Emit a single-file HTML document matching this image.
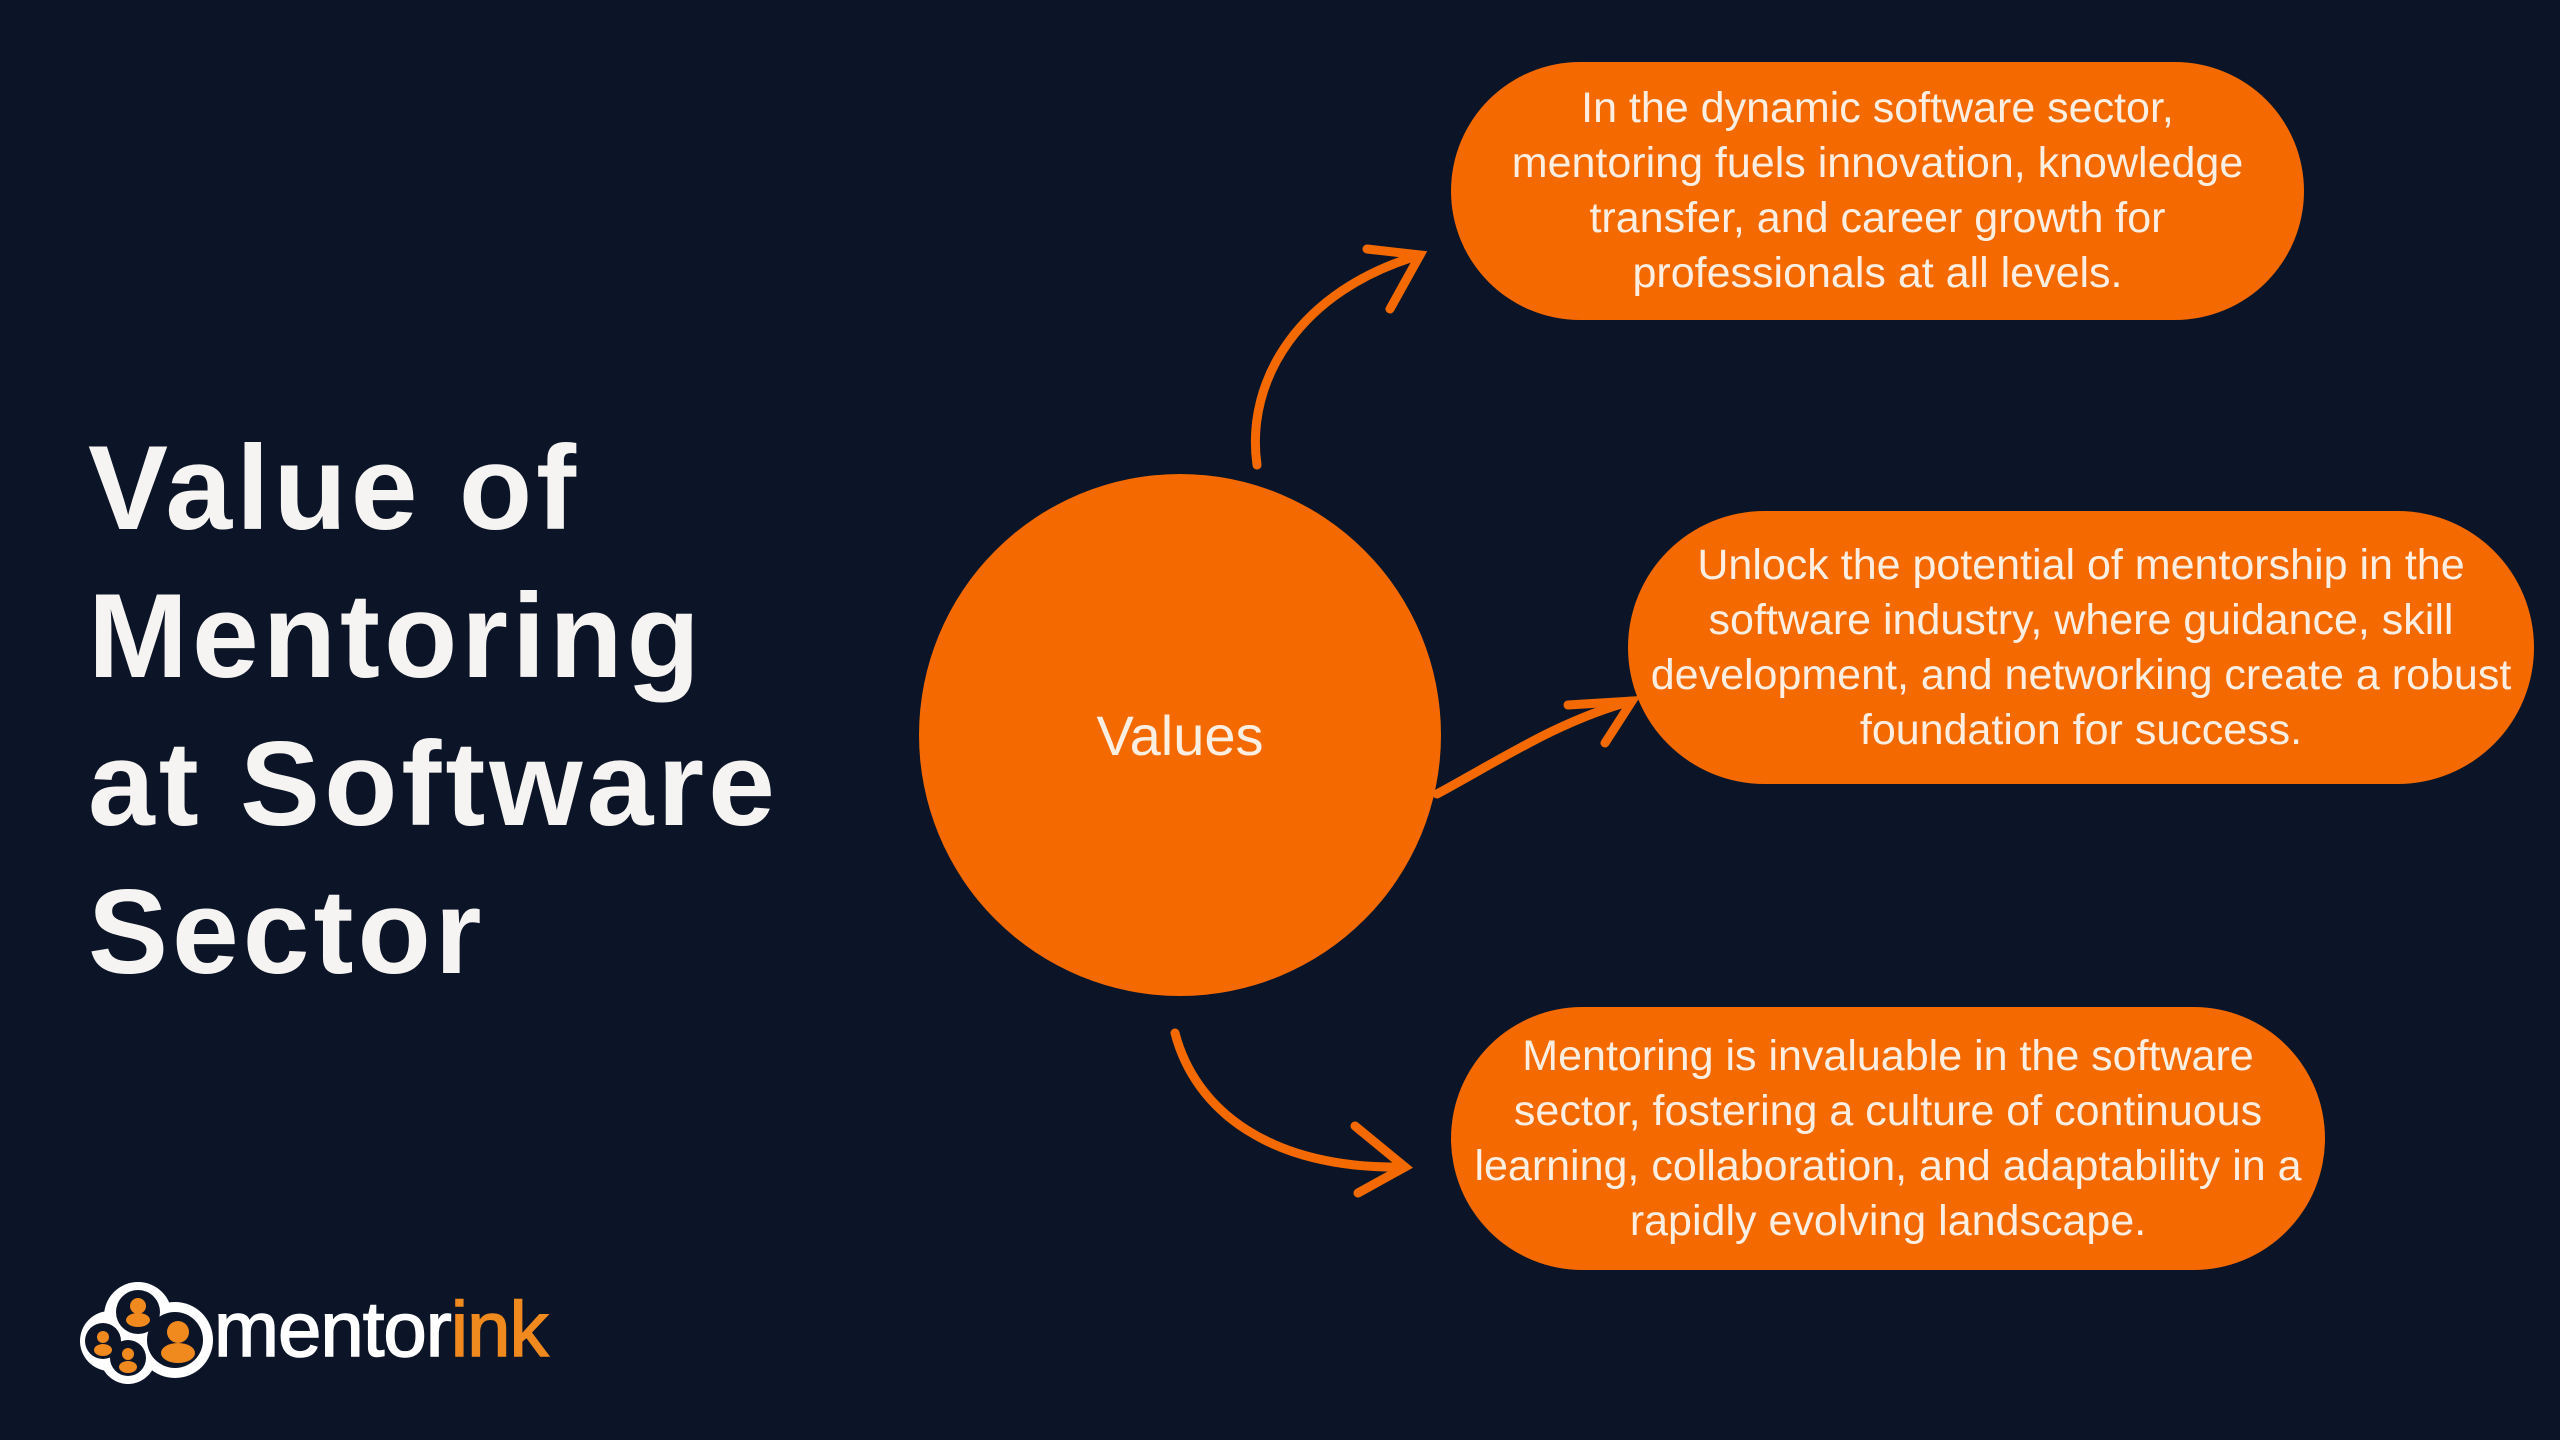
<!DOCTYPE html>
<html><head><meta charset="utf-8"><style>
html,body{margin:0;padding:0}
body{width:2560px;height:1440px;background:#0c1527;position:relative;overflow:hidden;font-family:"Liberation Sans",sans-serif}
.t{position:absolute;left:88px;color:#f6f4f2;font-weight:bold;font-size:120px;letter-spacing:4px;line-height:148px;top:414px}
.pill{position:absolute;background:#f46a00;border-radius:140px;color:#fcefe2;font-size:43px;line-height:55px;text-align:center;display:flex;align-items:center;justify-content:center;box-sizing:border-box;white-space:nowrap}
.circ{position:absolute;left:919px;top:474px;width:522px;height:522px;border-radius:50%;background:#f46a00;color:#fcefe2;font-size:56px;display:flex;align-items:center;justify-content:center}
.logo{position:absolute;left:214px;top:1284px;font-size:78px;color:#fff;letter-spacing:-1px;-webkit-text-stroke:1.5px currentColor}
</style></head><body>
<div class="t">Value of<br>Mentoring<br>at Software<br>Sector</div>
<div class="circ">Values</div>
<div class="pill" style="left:1451px;top:62px;width:853px;height:258px">In the dynamic software sector,<br>mentoring fuels innovation, knowledge<br>transfer, and career growth for<br>professionals at all levels.</div>
<div class="pill" style="left:1628px;top:511px;width:906px;height:273px">Unlock the potential of mentorship in the<br>software industry, where guidance, skill<br>development, and networking create a robust<br>foundation for success.</div>
<div class="pill" style="left:1451px;top:1007px;width:874px;height:263px">Mentoring is invaluable in the software<br>sector, fostering a culture of continuous<br>learning, collaboration, and adaptability in a<br>rapidly evolving landscape.</div>
<svg width="2560" height="1440" style="position:absolute;left:0;top:0" fill="none" stroke="#f46a00" stroke-width="9" stroke-linecap="round">
<path d="M1257 465 C1245 380 1300 290 1420 255"/>
<path d="M1367 249 L1420 255 L1390 309"/>
<path d="M1437 794 C1500 760 1560 720 1632 701"/>
<path d="M1568 705 L1632 701 L1605 743"/>
<path d="M1175 1033 C1195 1110 1270 1170 1405 1167"/>
<path d="M1355 1126 L1405 1167 L1358 1193"/>
<g stroke="none">
<circle cx="110" cy="1341" r="30" fill="#fff"/><circle cx="138" cy="1316" r="34" fill="#fff"/><circle cx="128" cy="1356" r="28" fill="#fff"/><circle cx="175" cy="1340" r="38" fill="#fff"/>
<circle cx="103" cy="1341" r="18" fill="#0c1527"/><circle cx="138" cy="1312" r="22" fill="#0c1527"/><circle cx="128" cy="1358" r="18" fill="#0c1527"/><circle cx="175" cy="1340" r="28" fill="#0c1527"/>
<circle cx="103" cy="1337" r="6" fill="#f0891e"/><circle cx="138" cy="1306" r="8" fill="#f0891e"/><circle cx="128" cy="1354" r="6" fill="#f0891e"/><circle cx="178" cy="1332" r="11" fill="#f0891e"/>
<ellipse cx="103" cy="1350" rx="9" ry="6" fill="#f0891e"/><ellipse cx="138" cy="1320" rx="12" ry="7" fill="#f0891e"/><ellipse cx="128" cy="1367" rx="9" ry="6" fill="#f0891e"/><ellipse cx="178" cy="1353" rx="17" ry="10" fill="#f0891e"/>
</g>
</svg>
<div class="logo">mentor<span style="color:#f0891e">ink</span></div>
</body></html>
